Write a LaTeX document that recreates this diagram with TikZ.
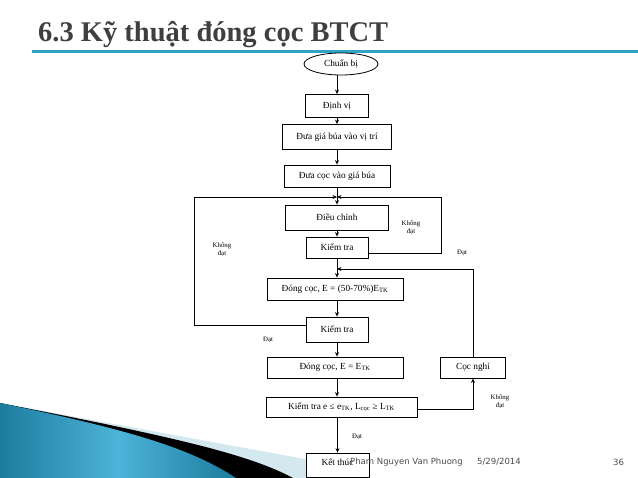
\documentclass[tikz,border=0pt]{standalone}
\usepackage{fontspec}
\setmainfont{Liberation Serif}
\newfontfamily\footfont{DejaVu Sans}
\usetikzlibrary{shapes.geometric,arrows.meta}
\definecolor{titlegray}{HTML}{3F3F3F}
\definecolor{rulblue}{HTML}{2FA3C7}
\definecolor{footgray}{HTML}{4A4A4A}
\definecolor{lightblue}{HTML}{D4E8F0}
\definecolor{tealD}{HTML}{1C7C9E}
\definecolor{tealL}{HTML}{4DB3D8}
\begin{document}
\begin{tikzpicture}[x=1pt,y=-1pt,
  box/.style={draw, fill=white, line width=0.8pt, inner sep=0pt, font=\fontsize{9.3}{10}\selectfont},
  arr/.style={-{Stealth[length=4.5pt,width=4pt]}, line width=0.8pt},
  lbl/.style={font=\fontsize{6.8}{7.8}\selectfont, align=center, inner sep=0pt},
  foot/.style={font=\footfont\fontsize{8.5}{10}\selectfont, text=footgray, anchor=west, inner sep=0pt}]
\useasboundingbox (0,0) rectangle (638,478);
% background decoration
\fill[lightblue] (0,403) -- (310,460) -- (314,478) -- (0,478) -- cycle;
\fill[black] (0,403) .. controls (180,438) and (250,455) .. (293,478) -- (0,478) -- cycle;
\shade[left color=tealD, right color=tealD, middle color=tealL] (0,403) .. controls (130,430) and (190,448) .. (236,478) -- (0,478) -- cycle;
% title
\node[anchor=base west, inner sep=0pt, font=\bfseries\fontsize{28.5}{34}\selectfont, text=titlegray] (title) at (38,42) {6.3 Kỹ thuật đóng cọc BTCT};
\draw[rulblue, line width=3pt] (32,51.5) -- (638,51.5);
% nodes
\node[box, ellipse, minimum width=74pt, minimum height=22pt] (s0) at (341,64) {Chuẩn bị};
\node[box, minimum width=63pt, minimum height=23pt] (s1) at (337,106) {Định vị};
\node[box, minimum width=109pt, minimum height=25pt] (s2) at (337,137) {Đưa giá búa vào vị trí};
\node[box, minimum width=106pt, minimum height=22pt] (s3) at (337,176) {Đưa cọc vào giá búa};
\node[box, minimum width=103pt, minimum height=25pt] (s4) at (337,217.5) {Điều chỉnh};
\node[box, minimum width=62pt, minimum height=21pt] (s5) at (337,247.5) {Kiểm tra};
\node[box, minimum width=136pt, minimum height=22pt] (s6) at (335,289) {Đóng cọc, E = (50-70\%)E\textsubscript{TK}};
\node[box, minimum width=62pt, minimum height=25pt] (s7) at (337,329.5) {Kiểm tra};
\node[box, minimum width=136pt, minimum height=21pt] (s8) at (335,367.5) {Đóng cọc, E = E\textsubscript{TK}};
\node[box, minimum width=65pt, minimum height=21pt] (s9) at (473,367.5) {Cọc nghỉ};
\node[box, minimum width=151pt, minimum height=20pt] (s10) at (341.5,407) {Kiểm tra e ≤ e\textsubscript{TK}, L\textsubscript{cọc} ≥ L\textsubscript{TK}};
\node[box, minimum width=63pt, minimum height=24pt, text depth=6pt] (s11) at (337.5,465) {Kết thúc};
\coordinate (j1) at (337,197);
\coordinate (j2) at (337,269);
% connectors
\draw[arr] (s0.south -| s1) -- (s1);
\draw[arr] (s1) -- (s2);
\draw[arr] (s2) -- (s3);
\draw[arr] (s3) -- (s4);
\draw[arr] (s4) -- (s5);
\draw[arr] (s5.south) -- (s6.north -| s5);
\draw[arr] (s6.south -| s7) -- (s7);
\draw[arr] (s7) -- (s8.north -| s7);
\draw[arr] (s8.south -| s7) -- (s10.north -| s7);
\draw[arr] (s10.south -| s11) -- (s11);
\draw[arr] ([yshift=-5.5pt]s5.east) -- ++(73,0) |- (j1);
\draw[arr] ([yshift=4.5pt]s7.west) -| (194,197) -- (j1);
\draw[arr] ([yshift=-2pt]s10.east) -| (s9.south);
\draw[arr] (s9.north) |- (j2);
% labels
\node[lbl] (l1) at (411,228) {Không\\đạt};
\node[lbl] (l2) at (222,250) {Không\\đạt};
\node[lbl] (l3) at (462,253) {Đạt};
\node[lbl] (l4) at (268,340) {Đạt};
\node[lbl] (l5) at (500,402) {Không\\đạt};
\node[lbl] (l6) at (357,437) {Đạt};
% footer
\node[foot] (f1) at (350,462) {Pham Nguyen Van Phuong};
\node[foot] (f2) at (477,462) {5/29/2014};
\node[foot] (f3) at (613,462) {36};
\end{tikzpicture}
\end{document}
